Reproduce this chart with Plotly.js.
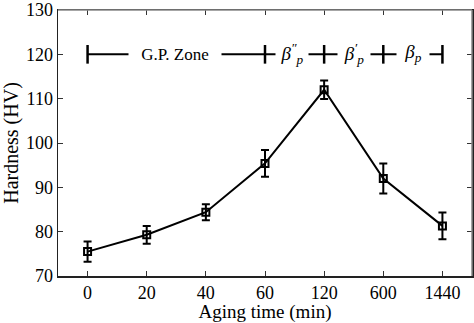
<!DOCTYPE html>
<html>
<head>
<meta charset="utf-8">
<script src="https://cdn.plot.ly/plotly-3.0.1.min.js"></script>
<style>html,body{margin:0;padding:0;background:#fff;}#chart{width:474px;height:323px;}</style>
</head>
<body>
<div id="chart"></div>
<script>
// Data
const agingTime = ['0', '20', '40', '60', '120', '600', '1440'];
const hardness = [75.5, 79.3, 84.4, 95.4, 112.0, 92.0, 81.3];
const hardnessErr = [2.3, 2.0, 1.8, 3.0, 2.1, 3.4, 3.0];
const yTicks = [70, 80, 90, 100, 110, 120, 130];

// Precipitation zone annotation
const zoneBounds = ['0', '60', '120', '600', '1440'];
const zoneBase = ['G.P. Zone', 'β', 'β', 'β'];
const zonePrime = ['', '″', '′', ''];
const zoneSub = ['', 'p', 'p', 'p'];
const zoneLevel = 120;

const FONT = '"Liberation Serif", "Times New Roman", serif';
const idx = c => agingTime.indexOf(c);

const trace = {
  x: agingTime,
  y: hardness,
  type: 'scatter',
  mode: 'lines+markers',
  line: {color: '#000', width: 2},
  marker: {symbol: 'square-open', size: 7, color: '#000', line: {width: 2, color: '#000'}},
  error_y: {type: 'data', array: hardnessErr, visible: true, color: '#000', thickness: 2, width: 4},
  showlegend: false,
  cliponaxis: false
};

const shapes = [];
shapes.push({type: 'line', xref: 'x', yref: 'y',
  x0: idx(zoneBounds[0]), x1: idx(zoneBounds[zoneBounds.length - 1]),
  y0: zoneLevel, y1: zoneLevel, line: {color: '#000', width: 2}});
zoneBounds.forEach(b => {
  shapes.push({type: 'line', xref: 'x', yref: 'y',
    x0: idx(b), x1: idx(b), y0: zoneLevel - 2.1, y1: zoneLevel + 2.1,
    line: {color: '#000', width: 2.5}});
});
// frame: lighter top/right edges
shapes.push({type: 'line', xref: 'paper', yref: 'paper', x0: 0, x1: 1, y0: 1, y1: 1, line: {color: '#888', width: 1.5}});
shapes.push({type: 'line', xref: 'paper', yref: 'paper', x0: 1, x1: 1, y0: 0, y1: 1, line: {color: '#888', width: 1.5}});

const annotations = [];
for (let i = 0; i < zoneBase.length; i++) {
  const xm = (idx(zoneBounds[i]) + idx(zoneBounds[i + 1])) / 2;
  if (zoneSub[i] === '') {
    annotations.push({x: xm, y: zoneLevel, xref: 'x', yref: 'y', showarrow: false,
      text: zoneBase[i], font: {family: FONT, size: 17, color: '#000'},
      bgcolor: '#fff', borderpad: 0, width: 92, xshift: -1});
  } else {
    let t = '<i>' + zoneBase[i];
    if (zonePrime[i] !== '') t += '<sup>' + zonePrime[i] + '</sup>';
    t += '<sub>' + zoneSub[i] + '</sub></i>';
    annotations.push({x: xm, y: zoneLevel, xref: 'x', yref: 'y', showarrow: false,
      text: t, font: {family: FONT, size: 19, color: '#000'},
      bgcolor: '#fff', borderpad: 0, width: 32, xshift: i === 1 ? -3 : 0, yshift: 1});
  }
}

const layout = {
  width: 474, height: 323,
  margin: {l: 58, r: 2, t: 10, b: 47},
  paper_bgcolor: '#fff', plot_bgcolor: '#fff',
  font: {family: FONT, size: 18, color: '#000'},
  xaxis: {
    type: 'category', categoryorder: 'array', categoryarray: agingTime,
    range: [-0.5, 6.5], ticks: 'inside', ticklen: 5, tickwidth: 1, tickcolor: '#333',
    showline: true, linecolor: '#222', linewidth: 1.5, mirror: 'ticks',
    showgrid: false, zeroline: false,
    tickfont: {family: FONT, size: 18, color: '#000'},
    title: {text: 'Aging time (min)', font: {family: FONT, size: 19, color: '#000'}, standoff: 7}
  },
  yaxis: {
    range: [70, 130], tickvals: yTicks, ticks: 'inside', ticklen: 5, tickwidth: 1, tickcolor: '#333',
    showline: true, linecolor: '#222', linewidth: 1.5, mirror: 'ticks',
    showgrid: false, zeroline: false,
    tickfont: {family: FONT, size: 18, color: '#000'},
    title: {text: 'Hardness (HV)', font: {family: FONT, size: 20, color: '#000'}, standoff: 4}
  },
  shapes: shapes,
  annotations: annotations
};

Plotly.newPlot('chart', [trace], layout, {displayModeBar: false, staticPlot: true});
</script>
</body>
</html>
